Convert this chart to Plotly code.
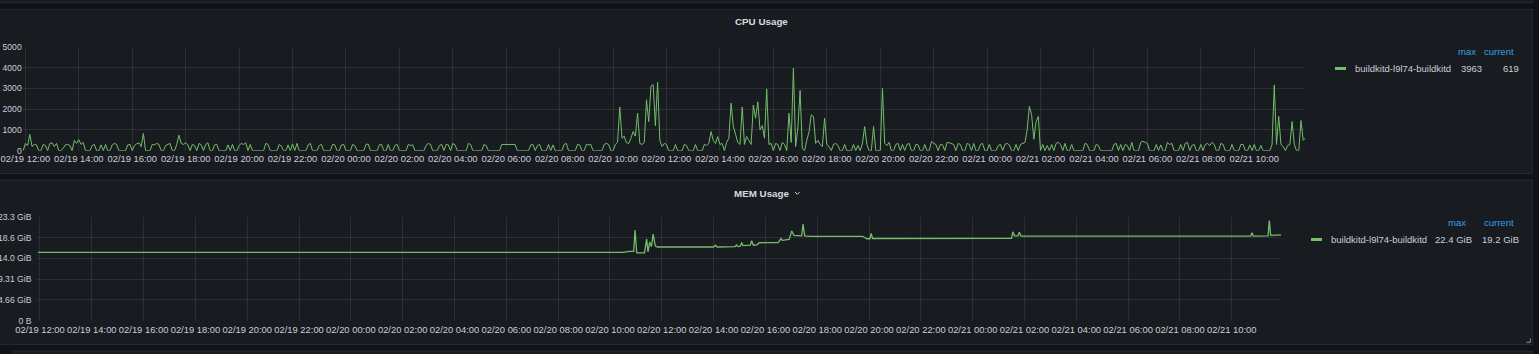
import plotly.graph_objects as go
import pandas as pd

W, H = 1539, 354

# ---------------- data ----------------
series_name = "buildkitd-l9l74-buildkitd"

cpu_start = "2024-02-19 11:55"
cpu_step = "5min"
cpu_values = [
    0,
    350, 250, 780, 200, 300, 280, 0, 0, 300, 250, 0, 350,          # 02/19 12h
    380, 200, 350, 0, 0, 120, 280, 300, 250, 0, 500, 350,          # 13h
    530, 300, 400, 0, 0, 0, 250, 300, 0, 0, 280, 0,                # 14h
    300, 0, 0, 280, 350, 300, 0, 0, 0, 0, 280, 300,                # 15h
    0, 250, 330, 380, 200, 830, 0, 0, 0, 300, 280, 350,            # 16h
    300, 0, 0, 250, 320, 350, 0, 0, 300, 750, 350, 300,            # 17h
    380, 280, 0, 300, 250, 0, 350, 280, 0, 300, 380, 0,            # 18h
    0, 280, 300, 0, 0, 0, 0, 280, 0, 300, 0, 0,                    # 19h
    250, 350, 300, 380, 0, 300, 0, 0, 0, 0, 0, 0,                  # 20h
    350, 300, 0, 0, 0, 0, 300, 220, 0, 0, 280, 0,                  # 21h
    330, 0, 350, 0, 0, 0, 0, 280, 350, 0, 0, 0,                    # 22h
    250, 300, 0, 0, 0, 0, 300, 280, 0, 0, 280, 300,                # 23h
    0, 0, 0, 300, 250, 0, 0, 0, 0, 300, 320, 0,                    # 02/20 00h
    0, 0, 0, 280, 300, 0, 0, 300, 0, 0, 250, 300,                  # 01h
    0, 0, 0, 0, 300, 250, 280, 0, 0, 0, 0, 0,                      # 02h
    250, 350, 300, 0, 0, 0, 250, 300, 0, 300, 280, 0,              # 03h
    350, 280, 0, 0, 0, 0, 0, 350, 300, 0, 0, 0,                    # 04h
    0, 0, 300, 250, 0, 0, 0, 0, 0, 0, 300, 300,                    # 05h
    300, 300, 300, 300, 300, 0, 0, 0, 0, 0, 0, 280,                # 06h
    300, 0, 250, 300, 0, 0, 0, 300, 0, 280, 0, 0,                  # 07h
    0, 0, 300, 350, 0, 0, 0, 0, 300, 280, 0, 0,                    # 08h
    300, 280, 300, 0, 0, 0, 0, 0, 300, 350, 300, 0,                # 09h
    0, 300, 400, 2100, 600, 700, 380, 350, 600, 920, 700, 1800,    # 10h
    350, 300, 400, 2450, 1400, 3100, 3180, 1200, 3300, 500, 200, 350,  # 11h
    300, 0, 0, 0, 300, 0, 0, 0, 300, 250, 0, 0,                    # 12h
    0, 300, 0, 0, 0, 300, 250, 350, 920, 500, 350, 680,            # 13h
    300, 350, 0, 400, 600, 2290, 1160, 800, 400, 300, 2100, 300,   # 14h
    680, 500, 300, 2190, 1560, 2350, 1000, 1200, 600, 2970, 300, 350,  # 15h
    0, 350, 300, 0, 400, 300, 0, 1800, 400, 3963, 200, 1100,       # 16h
    2900, 100, 0, 500, 900, 1725, 1645, 350, 500, 300, 200, 1565,  # 17h
    300, 200, 0, 300, 350, 250, 0, 0, 300, 0, 0, 0,                # 18h
    300, 0, 250, 0, 350, 1160, 300, 0, 0, 1160, 0, 0,              # 19h
    0, 3000, 350, 250, 400, 0, 0, 300, 350, 0, 300, 0,             # 20h
    300, 350, 0, 0, 300, 280, 0, 0, 300, 0, 0, 450,                # 21h
    350, 300, 0, 300, 280, 0, 400, 380, 350, 300, 0, 350,          # 22h
    300, 0, 0, 350, 300, 0, 350, 0, 0, 300, 350, 0,                # 23h
    0, 300, 0, 0, 0, 250, 300, 0, 300, 350, 280, 0,                # 02/21 00h
    0, 300, 0, 300, 350, 400, 1000, 2130, 1725, 550, 1400, 1645,   # 01h
    0, 300, 0, 250, 0, 300, 0, 350, 400, 300, 0, 350,              # 02h
    0, 0, 300, 0, 0, 0, 0, 0, 350, 300, 0, 0,                      # 03h
    0, 300, 250, 0, 0, 0, 0, 0, 0, 300, 350, 0,                    # 04h
    300, 0, 300, 250, 0, 400, 0, 0, 0, 400, 450, 400,              # 05h
    350, 0, 0, 0, 300, 0, 280, 0, 0, 400, 300, 350,                # 06h
    0, 0, 0, 300, 0, 350, 400, 0, 250, 300, 0, 0,                  # 07h
    300, 0, 300, 350, 250, 400, 300, 0, 0, 350, 300, 0,            # 08h
    0, 0, 300, 0, 0, 0, 300, 300, 0, 0, 280, 0,                    # 09h
    300, 0, 0, 250, 0, 0, 0, 0, 300, 3150, 300, 1645,              # 10h
    300, 200, 0, 250, 300, 1400, 300, 0, 0, 1450, 500, 619,        # 11h
]
cpu_ticks = [0, 1000, 2000, 3000, 4000, 5000]
cpu_tick_labels = ["0", "1000", "2000", "3000", "4000", "5000"]

mem_times = [
    "2024-02-19 11:55", "2024-02-20 10:30", "2024-02-20 10:45", "2024-02-20 10:55",
    "2024-02-20 10:58", "2024-02-20 11:02", "2024-02-20 11:20", "2024-02-20 11:25",
    "2024-02-20 11:28", "2024-02-20 11:32", "2024-02-20 11:36", "2024-02-20 11:40",
    "2024-02-20 11:45", "2024-02-20 11:50", "2024-02-20 14:00", "2024-02-20 14:04",
    "2024-02-20 14:08", "2024-02-20 14:50", "2024-02-20 14:53", "2024-02-20 14:56",
    "2024-02-20 15:02", "2024-02-20 15:05", "2024-02-20 15:08", "2024-02-20 15:25",
    "2024-02-20 15:28", "2024-02-20 15:32", "2024-02-20 15:42", "2024-02-20 15:45",
    "2024-02-20 16:30", "2024-02-20 16:33", "2024-02-20 16:36", "2024-02-20 16:39",
    "2024-02-20 16:55", "2024-02-20 17:01", "2024-02-20 17:06", "2024-02-20 17:24",
    "2024-02-20 17:27", "2024-02-20 17:31", "2024-02-20 17:45", "2024-02-20 19:45",
    "2024-02-20 19:55", "2024-02-20 20:02", "2024-02-20 20:05", "2024-02-20 20:08",
    "2024-02-21 01:30", "2024-02-21 01:33", "2024-02-21 01:37", "2024-02-21 01:45",
    "2024-02-21 01:48", "2024-02-21 01:52", "2024-02-21 10:44", "2024-02-21 10:47",
    "2024-02-21 10:50", "2024-02-21 11:24", "2024-02-21 11:27", "2024-02-21 11:30",
    "2024-02-21 11:55",
]
mem_values = [
    15.3, 15.3, 15.5, 15.5,
    20.3, 15.2, 15.2, 18.3,
    15.4, 17.6, 16.6, 19.4,
    16.7, 16.5, 16.5, 16.9,
    16.5, 16.6, 17.0, 16.6,
    16.7, 17.5, 16.8, 16.9,
    17.9, 16.9, 17.0, 17.45,
    17.5, 18.0, 18.4, 18.0,
    18.2, 20.1, 19.1, 19.0,
    21.6, 19.0, 18.9, 18.9,
    18.35, 18.35, 19.55, 18.4,
    18.45, 19.9, 19.0, 19.0,
    19.8, 18.95, 18.95, 19.7,
    18.95, 19.0, 22.4, 19.1,
    19.2,
]
mem_tick_bytes = [0, 5e9, 10e9, 15e9, 20e9, 25e9]
mem_tick_labels = ["0 B", "4.66 GiB", "9.31 GiB", "14.0 GiB", "18.6 GiB", "23.3 GiB"]

x_range = ["2024-02-19 11:54", "2024-02-21 11:54"]
x_tick0 = "2024-02-19 12:00"

# ---------------- style ----------------
PAGE_BG = "#111217"
PANEL_BG = "#181b1f"
PANEL_BORDER = "#25282e"
GRID = "rgba(204,204,220,0.11)"
TEXT = "#ccccdc"
TITLE_COLOR = "#d8d9e0"
BLUE = "#33a2e5"
GREEN = "#73bf69"
FONT = "'Liberation Sans', Arial, Helvetica, sans-serif"
XTICK_SIZE = 9.4
YTICK_SIZE = 8.6
LEG_SIZE = 9.5
TITLE_SIZE = 9.8


def px(x):
    return x / W


def py(y):
    return 1 - y / H


cpu_times = pd.date_range(cpu_start, periods=len(cpu_values), freq=cpu_step)

fig = go.Figure()
fig.add_trace(go.Scatter(x=cpu_times, y=cpu_values, mode="lines", name=series_name,
                         line=dict(color=GREEN, width=1), xaxis="x", yaxis="y",
                         showlegend=False))
fig.add_trace(go.Scatter(x=pd.to_datetime(mem_times), y=mem_values, mode="lines",
                         name=series_name, line=dict(color=GREEN, width=1.3),
                         xaxis="x2", yaxis="y2", showlegend=False))

xcommon = dict(type="date", range=x_range, tick0=x_tick0, dtick=2 * 3600 * 1000,
               tickformat="%m/%d %H:%M", showgrid=True, gridcolor=GRID, gridwidth=1,
               zeroline=False, showline=False, ticks="", tickangle=0, automargin=False,
               tickfont=dict(family=FONT, size=XTICK_SIZE, color=TEXT), fixedrange=True)
ycommon = dict(showgrid=True, gridcolor=GRID, gridwidth=1, zeroline=False,
               showline=False, ticks="", tickmode="array", automargin=False,
               tickfont=dict(family=FONT, size=YTICK_SIZE, color=TEXT), fixedrange=True)

mem_tickvals = [b / 2 ** 30 for b in mem_tick_bytes]

shapes = []


def rect(x0, y0, x1, y1, fill, line=None):
    shapes.append(dict(type="rect", xref="paper", yref="paper",
                       x0=px(x0), x1=px(x1), y0=py(y1), y1=py(y0),
                       fillcolor=fill, line=dict(color=line or fill, width=1),
                       layer="below"))


# panels
rect(-10, -20, 1532.5, 2.5, PANEL_BG, PANEL_BORDER)
rect(-10, 9.5, 1532.5, 173.5, PANEL_BG, PANEL_BORDER)
rect(-10, 180, 1532.5, 344.5, PANEL_BG, PANEL_BORDER)
rect(13, 351, 1532.5, 380, PANEL_BG, PANEL_BORDER)

# legend swatches
shapes.append(dict(type="line", xref="paper", yref="paper",
                   x0=px(1335), x1=px(1346), y0=py(68.5), y1=py(68.5),
                   line=dict(color=GREEN, width=3)))
shapes.append(dict(type="line", xref="paper", yref="paper",
                   x0=px(1311), x1=px(1322), y0=py(239.5), y1=py(239.5),
                   line=dict(color=GREEN, width=3)))


def path(points):
    return "M " + " L ".join(f"{px(a)},{py(b)}" for a, b in points)


# chevron after MEM title
shapes.append(dict(type="path", xref="paper", yref="paper",
                   path=path([(795, 192), (797.3, 194.3), (799.6, 192)]),
                   line=dict(color=TEXT, width=1)))
# resize handle
shapes.append(dict(type="path", xref="paper", yref="paper",
                   path=path([(1526.5, 342.3), (1530.3, 342.3), (1530.3, 338.5)]),
                   line=dict(color="#8e8e99", width=1)))

ann = []


def text(x, y, s, size=LEG_SIZE, color=TEXT, xanchor="left", weight=None):
    f = dict(family=FONT, size=size, color=color)
    if weight:
        f["weight"] = weight
    ann.append(dict(x=px(x), y=py(y), xref="paper", yref="paper", text=s,
                    showarrow=False, xanchor=xanchor, yanchor="middle", font=f))


text(761.5, 21.5, "CPU Usage", size=TITLE_SIZE, color=TITLE_COLOR, xanchor="center",
     weight="bold")
text(761.5, 193, "MEM Usage", size=TITLE_SIZE, color=TITLE_COLOR, xanchor="center",
     weight="bold")

cpu_max = max(cpu_values)
cpu_cur = cpu_values[-1]
mem_max = max(mem_values)
mem_cur = mem_values[-1]

text(1478, 51, "max", color=BLUE, xanchor="right")
text(1515.5, 51, "current", color=BLUE, xanchor="right")
text(1352.5, 68, series_name)
text(1483.5, 68, f"{cpu_max:.0f}", xanchor="right")
text(1521, 68, f"{cpu_cur:.0f}", xanchor="right")

text(1467.5, 222, "max", color=BLUE, xanchor="right")
text(1515.5, 222, "current", color=BLUE, xanchor="right")
text(1328.5, 239, series_name)
text(1473.5, 239, f"{mem_max:.1f} GiB", xanchor="right")
text(1521, 239, f"{mem_cur:.1f} GiB", xanchor="right")

fig.update_layout(
    width=W, height=H, margin=dict(l=0, r=0, t=0, b=0, pad=0, autoexpand=False),
    paper_bgcolor=PAGE_BG, plot_bgcolor="rgba(0,0,0,0)",
    showlegend=False, hovermode=False,
    xaxis=dict(domain=[px(22.7), px(1305)], anchor="y", ticklabelstandoff=1, **xcommon),
    yaxis=dict(domain=[py(150.7), py(46.7)], anchor="x", range=[0, 5000],
               tickvals=cpu_ticks, ticktext=cpu_tick_labels, ticklabelstandoff=0,
               **ycommon),
    xaxis2=dict(domain=[px(37.4), px(1281)], anchor="y2", ticklabelstandoff=2,
                **xcommon),
    yaxis2=dict(domain=[py(320.7), py(216.7)], anchor="x2",
                range=[0, mem_tickvals[-1]], tickvals=mem_tickvals,
                ticktext=mem_tick_labels, ticklabelstandoff=5, **ycommon),
    shapes=shapes, annotations=ann,
)

fig.write_html("out.html", config={"displayModeBar": False})
